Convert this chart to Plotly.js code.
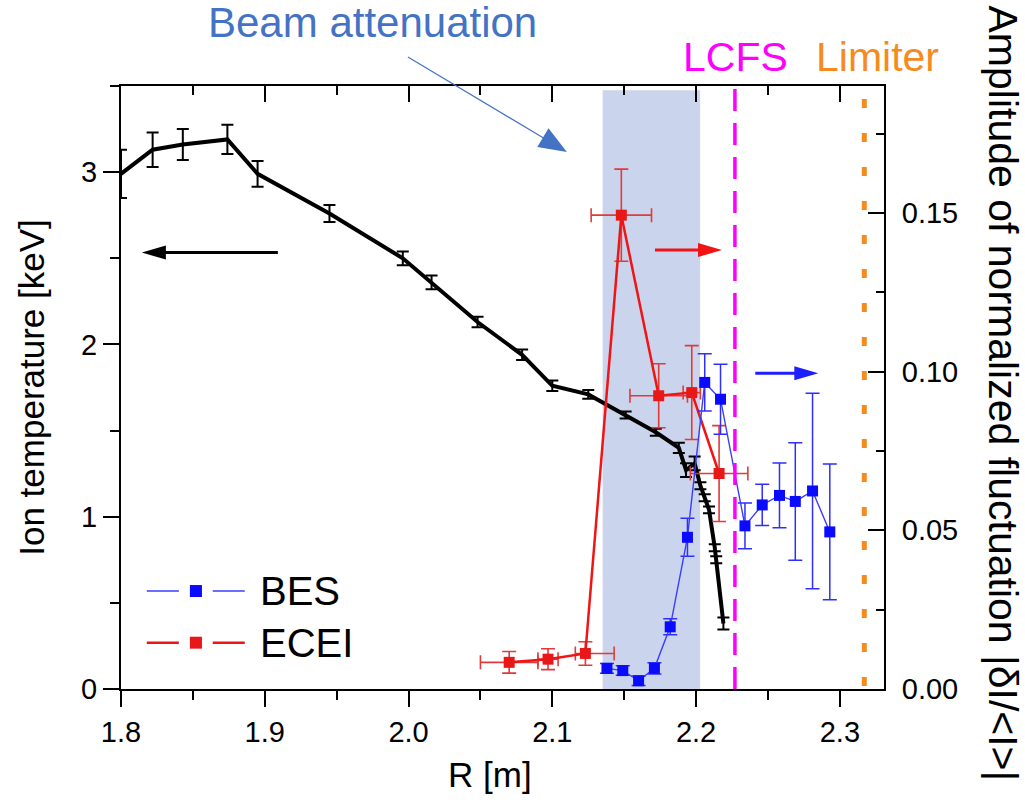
<!DOCTYPE html>
<html>
<head>
<meta charset="utf-8">
<script src="https://cdn.plot.ly/plotly-3.0.1.min.js"></script>
<style>html,body{margin:0;padding:0;background:#fff;}</style>
</head>
<body>
<div id="chart" style="width:1025px;height:810px;"></div>
<script>
// ---- Ion temperature (left axis) ----
const R_Ti   = [1.800, 1.822, 1.843, 1.874, 1.895, 1.945, 1.996, 2.016, 2.048, 2.079, 2.100, 2.125, 2.151, 2.172, 2.188, 2.193, 2.199, 2.203, 2.206, 2.209, 2.213, 2.214, 2.219];
const Ti     = [2.99, 3.13, 3.16, 3.19, 2.99, 2.76, 2.50, 2.36, 2.13, 1.94, 1.76, 1.71, 1.59, 1.49, 1.40, 1.27, 1.31, 1.18, 1.11, 1.04, 0.82, 0.75, 0.38];
const Ti_err = [0.14, 0.10, 0.09, 0.085, 0.075, 0.05, 0.04, 0.04, 0.03, 0.03, 0.03, 0.025, 0.02, 0.02, 0.03, 0.04, 0.04, 0.02, 0.02, 0.02, 0.02, 0.02, 0.035];

// ---- BES fluctuation amplitude (right axis) ----
const R_BES   = [2.138, 2.149, 2.160, 2.171, 2.182, 2.194, 2.206, 2.217, 2.234, 2.246, 2.258, 2.269, 2.281, 2.293];
const A_BES   = [0.0065, 0.0058, 0.0026, 0.0065, 0.0196, 0.0478, 0.0966, 0.0913, 0.0514, 0.0580, 0.0610, 0.0591, 0.0624, 0.0495];
const BES_err = [0.0015, 0.0015, 0.0015, 0.0018, 0.0025, 0.006, 0.009, 0.011, 0.0072, 0.0065, 0.0102, 0.0185, 0.0308, 0.0214];

// ---- ECEI fluctuation amplitude (right axis) ----
const R_ECEI        = [2.070, 2.097, 2.123, 2.148, 2.174, 2.197, 2.216];
const A_ECEI        = [0.0084, 0.0094, 0.0112, 0.1493, 0.0924, 0.0934, 0.0679];
const ECEI_yerr     = [0.0034, 0.0033, 0.0037, 0.0145, 0.0101, 0.0148, 0.0151];
const ECEI_xerrPlus = [0.020, 0.007, 0.020, 0.021, 0.020, 0.006, 0.020];
const ECEI_xerrMinus= [0.020, 0.007, 0.007, 0.021, 0.020, 0.006, 0.020];

// ---- reference positions ----
const beamRegion = [2.135, 2.2028];
const R_LCFS = 2.227;
const R_limiter = 2.317;

const xRange = [1.8, 2.3307];
const xTickStep = 0.1, xMinorStep = 0.05;
const FONT = "Liberation Sans, Arial, Helvetica, sans-serif";

const traces = [
  {
    x: R_Ti, y: Ti, mode: 'lines', yaxis: 'y', xaxis: 'x',
    line: {color: '#000000', width: 4},
    error_y: {type: 'data', array: Ti_err, visible: true, color: '#000000', thickness: 2, width: 6},
    showlegend: false, hoverinfo: 'x+y'
  },
  {
    x: R_ECEI, y: A_ECEI, mode: 'lines+markers', yaxis: 'y2', xaxis: 'x',
    line: {color: '#F01414', width: 2.5},
    marker: {symbol: 'square', size: 11, color: '#E81818'},
    error_y: {type: 'data', array: ECEI_yerr, visible: true, color: '#E03A3A', thickness: 1.6, width: 7},
    error_x: {type: 'data', array: ECEI_xerrPlus, arrayminus: ECEI_xerrMinus, symmetric: false, visible: true, color: '#E03A3A', thickness: 1.6, width: 7},
    showlegend: false
  },
  {
    x: R_BES, y: A_BES, mode: 'lines+markers', yaxis: 'y2', xaxis: 'x',
    line: {color: '#3C3CFF', width: 1.4},
    marker: {symbol: 'square', size: 11, color: '#0A0AFF'},
    error_y: {type: 'data', array: BES_err, visible: true, color: '#2E2EFF', thickness: 1.5, width: 7},
    showlegend: false
  },
  { x: [], y: [], xaxis: 'x2', yaxis: 'y', showlegend: false, hoverinfo: 'skip' }
];

const shapes = [
  {type: 'rect', xref: 'x', yref: 'paper', x0: beamRegion[0], x1: beamRegion[1], y0: 0, y1: 0.993,
   fillcolor: 'rgb(202,212,236)', line: {width: 0}, layer: 'below'},
  {type: 'line', xref: 'x', yref: 'paper', x0: R_LCFS, x1: R_LCFS, y0: 0, y1: 1,
   line: {color: '#FF00FF', width: 3.5, dash: '22px,12px'}},
  {type: 'line', xref: 'x', yref: 'paper', x0: R_limiter, x1: R_limiter, y0: 0.005, y1: 0.985,
   line: {color: '#F58A1F', width: 5, dash: '9px,25px'}},
  // black arrow (left)
  {type: 'line', xref: 'x', yref: 'y', xsizemode: 'pixel', ysizemode: 'pixel', xanchor: 1.8145, yanchor: 2.533,
   x0: 20, x1: 136, y0: 0, y1: 0, line: {color: '#000', width: 3}},
  {type: 'path', xref: 'x', yref: 'y', xsizemode: 'pixel', ysizemode: 'pixel', xanchor: 1.8145, yanchor: 2.533,
   path: 'M0,0 L24,7 L24,-7 Z', fillcolor: '#000', line: {width: 0}},
  // red arrow (right)
  {type: 'line', xref: 'x', yref: 'y2', xsizemode: 'pixel', ysizemode: 'pixel', xanchor: 2.218, yanchor: 0.1383,
   x0: -67, x1: -20, y0: 0, y1: 0, line: {color: '#F01414', width: 3}},
  {type: 'path', xref: 'x', yref: 'y2', xsizemode: 'pixel', ysizemode: 'pixel', xanchor: 2.218, yanchor: 0.1383,
   path: 'M0,0 L-24,7 L-24,-7 Z', fillcolor: '#F01414', line: {width: 0}},
  // blue arrow (right)
  {type: 'line', xref: 'x', yref: 'y2', xsizemode: 'pixel', ysizemode: 'pixel', xanchor: 2.285, yanchor: 0.0995,
   x0: -63, x1: -20, y0: 0, y1: 0, line: {color: '#1E1EFF', width: 3}},
  {type: 'path', xref: 'x', yref: 'y2', xsizemode: 'pixel', ysizemode: 'pixel', xanchor: 2.285, yanchor: 0.0995,
   path: 'M0,0 L-24,7 L-24,-7 Z', fillcolor: '#1E1EFF', line: {width: 0}},
  // beam attenuation arrow (paper-referenced so it is not clipped at the plot top)
  {type: 'line', xref: 'paper', yref: 'paper', xsizemode: 'pixel', ysizemode: 'pixel', xanchor: 0.5844, yanchor: 0.8905,
   x0: -159, y0: 95, x1: -20, y1: 12, line: {color: '#4472C4', width: 1.2}},
  {type: 'path', xref: 'paper', yref: 'paper', xsizemode: 'pixel', ysizemode: 'pixel', xanchor: 0.5844, yanchor: 0.8905,
   path: 'M0,0 L-18.4,23.8 L-29.6,5.0 Z', fillcolor: '#4472C4', line: {width: 0}},
  // custom legend symbols
  {type: 'line', xref: 'paper', yref: 'paper', x0: 0.0338, x1: 0.0758, y0: 0.1625, y1: 0.1625, line: {color: '#3C3CFF', width: 1.5}},
  {type: 'line', xref: 'paper', yref: 'paper', x0: 0.1202, x1: 0.1622, y0: 0.1625, y1: 0.1625, line: {color: '#3C3CFF', width: 1.5}},
  {type: 'rect', xref: 'paper', yref: 'paper', x0: 0.0903, x1: 0.1061, y0: 0.1526, y1: 0.1724, fillcolor: '#0A0AFF', line: {width: 0}},
  {type: 'line', xref: 'paper', yref: 'paper', x0: 0.0338, x1: 0.0758, y0: 0.0768, y1: 0.0768, line: {color: '#F01414', width: 2.5}},
  {type: 'line', xref: 'paper', yref: 'paper', x0: 0.1202, x1: 0.1622, y0: 0.0768, y1: 0.0768, line: {color: '#F01414', width: 2.5}},
  {type: 'rect', xref: 'paper', yref: 'paper', x0: 0.0903, x1: 0.1061, y0: 0.0669, y1: 0.0867, fillcolor: '#E81818', line: {width: 0}}
];

const annotations = [
  {xref: 'paper', yref: 'paper', x: 0.329, y: 1.106, text: 'Beam attenuation', showarrow: false,
   font: {family: FONT, size: 42, color: '#4472C4'}, xanchor: 'center', yanchor: 'middle'},
  {xref: 'paper', yref: 'paper', x: 0.806, y: 1.048, text: 'LCFS', showarrow: false,
   font: {family: FONT, size: 41, color: '#FF00FF'}, xanchor: 'center', yanchor: 'middle'},
  {xref: 'paper', yref: 'paper', x: 0.992, y: 1.048, text: 'Limiter', showarrow: false,
   font: {family: FONT, size: 41, color: '#F58A1F'}, xanchor: 'center', yanchor: 'middle'},
  {xref: 'paper', yref: 'paper', x: 1.156, y: 0.49, text: 'Amplitude of normalized fluctuation |δI/&lt;I&gt;|', showarrow: false,
   textangle: 90, font: {family: FONT, size: 41, color: '#000'}, xanchor: 'center', yanchor: 'middle'},
  {xref: 'paper', yref: 'paper', x: 0.4834, y: -0.1426, text: 'R [m]', showarrow: false,
   font: {family: FONT, size: 35, color: '#000'}, xanchor: 'center', yanchor: 'middle'},
  {xref: 'paper', yref: 'paper', x: 0.179, y: 0.1625, text: 'BES', showarrow: false,
   font: {family: FONT, size: 40, color: '#000'}, xanchor: 'left', yanchor: 'middle'},
  {xref: 'paper', yref: 'paper', x: 0.179, y: 0.0768, text: 'ECEI', showarrow: false,
   font: {family: FONT, size: 40, color: '#000'}, xanchor: 'left', yanchor: 'middle'}
];

const axisCommon = {
  showgrid: false, zeroline: false, showline: true, linecolor: '#000', linewidth: 2,
  tickcolor: '#000', tickwidth: 2, ticklen: 16,
  tickfont: {family: FONT, size: 29, color: '#000'}
};

const layout = {
  width: 1025, height: 810,
  margin: {l: 121, r: 141, t: 86, b: 121},
  paper_bgcolor: '#fff', plot_bgcolor: '#fff',
  font: {family: FONT, color: '#000'},
  showlegend: false,
  xaxis: Object.assign({}, axisCommon, {
    range: xRange, tick0: 1.8, dtick: xTickStep, tickformat: '.1f', ticks: 'outside',
    minor: {dtick: xMinorStep, ticks: 'outside', ticklen: 9, tickwidth: 2, tickcolor: '#000', showgrid: false}
  }),
  xaxis2: Object.assign({}, axisCommon, {
    overlaying: 'x', side: 'top', anchor: 'y',
    range: xRange, tick0: 1.8, dtick: xTickStep, ticks: 'inside', showticklabels: false,
    minor: {dtick: xMinorStep, ticks: 'inside', ticklen: 9, tickwidth: 2, tickcolor: '#000', showgrid: false}
  }),
  yaxis: Object.assign({}, axisCommon, {
    range: [0, 3.5], tick0: 0, dtick: 1, ticks: 'outside',
    minor: {dtick: 0.5, ticks: 'outside', ticklen: 9, tickwidth: 2, tickcolor: '#000', showgrid: false},
    title: {text: 'Ion temperature [keV]', font: {family: FONT, size: 35, color: '#000'}, standoff: 26}
  }),
  yaxis2: Object.assign({}, axisCommon, {
    overlaying: 'y', side: 'right', anchor: 'x',
    range: [0, 0.19], tick0: 0, dtick: 0.05, tickformat: '.2f', ticks: 'inside',
    ticklabelstandoff: 10,
    minor: {dtick: 0.025, ticks: 'inside', ticklen: 8, tickwidth: 2, tickcolor: '#000', showgrid: false}
  }),
  shapes: shapes,
  annotations: annotations
};

Plotly.newPlot('chart', traces, layout, {displayModeBar: false, staticPlot: true});
</script>
</body>
</html>
